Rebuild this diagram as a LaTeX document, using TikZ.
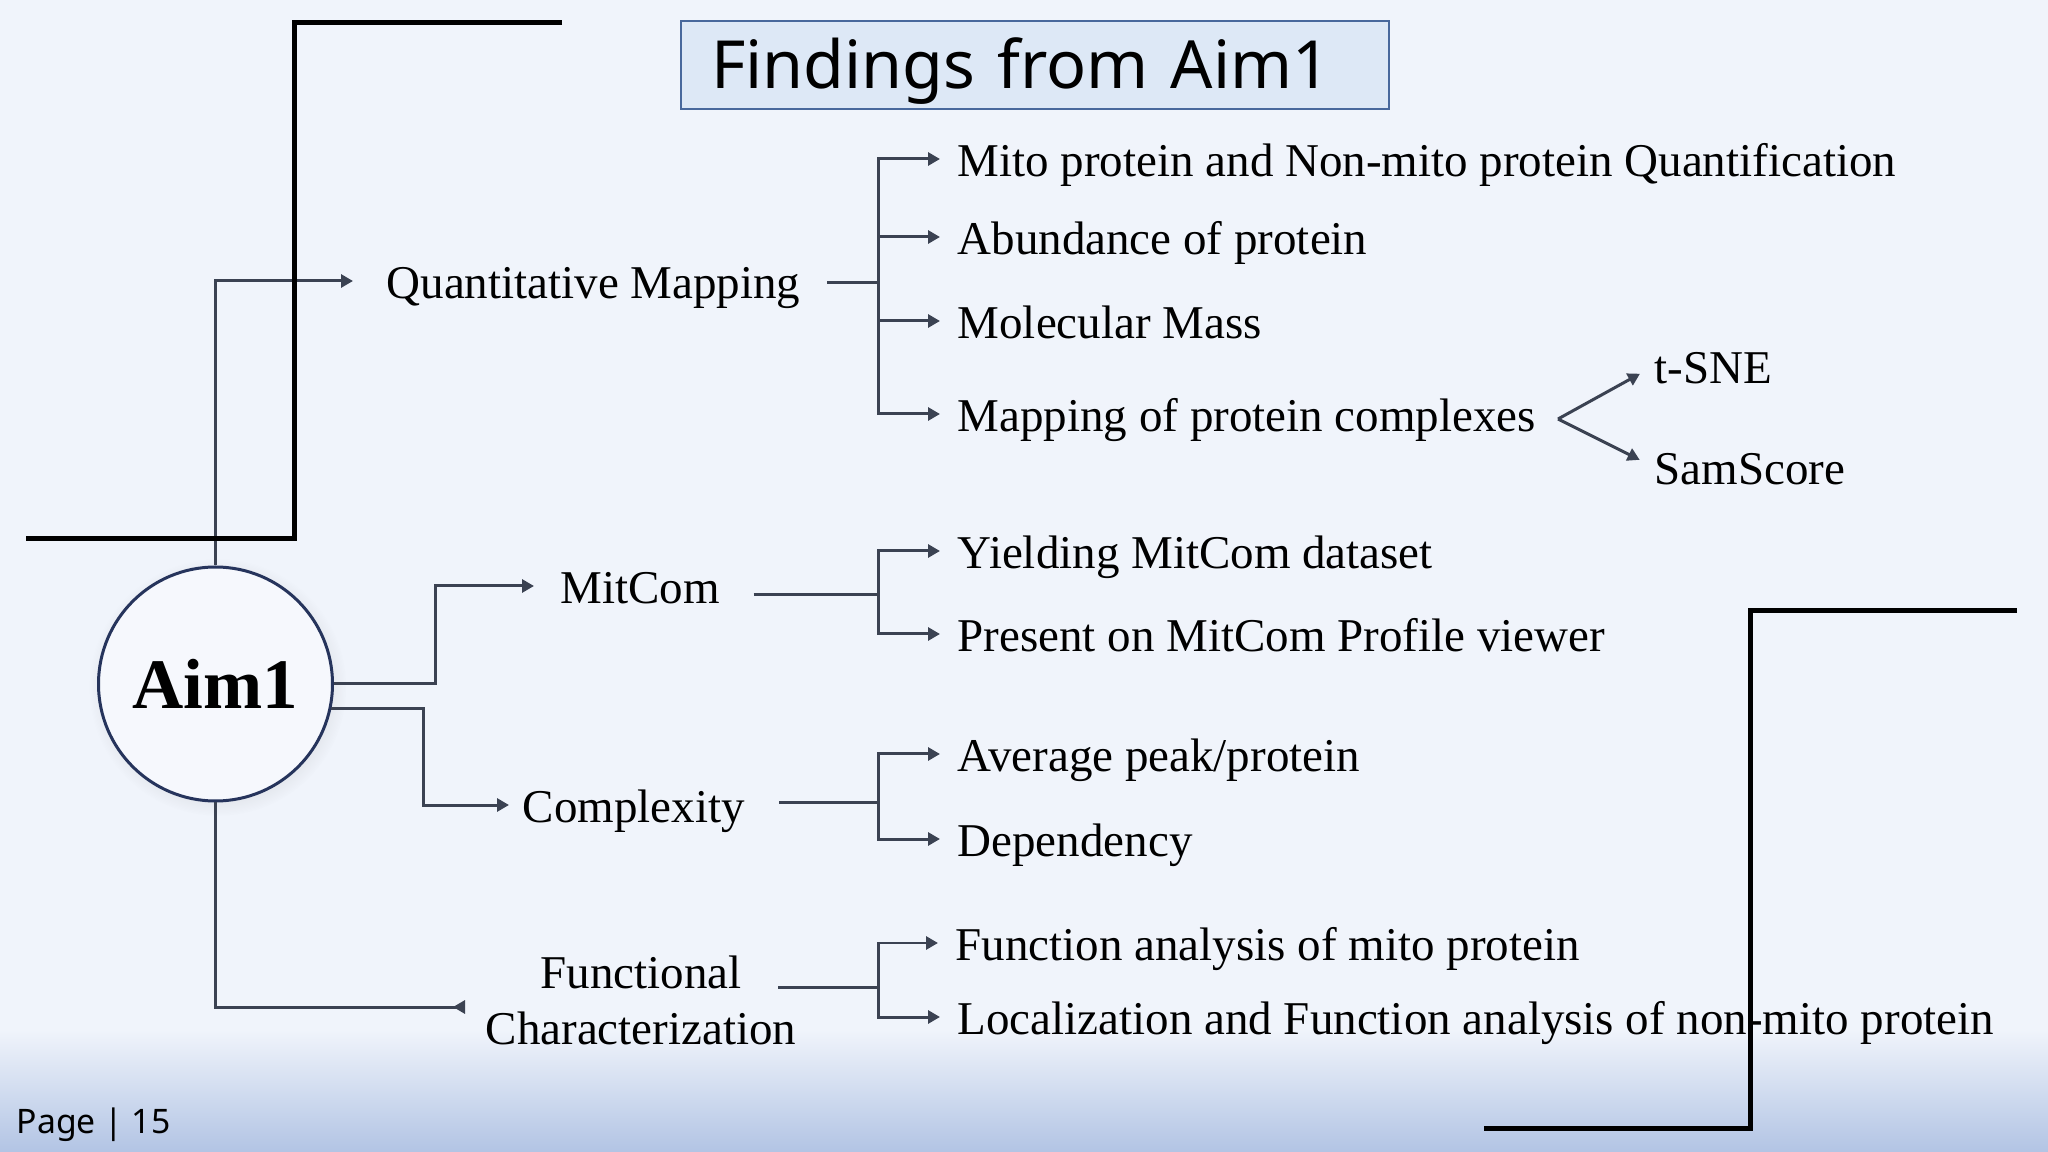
\documentclass[tikz,border=0pt]{standalone}
\usepackage{fontspec}
\setmainfont{Liberation Serif}
\newfontfamily\slidesans{Noto Sans}
\usepackage{tikz}
\usetikzlibrary{arrows.meta, positioning, shadows}
\definecolor{slidebg}{RGB}{240,244,251}
\definecolor{slidebot}{RGB}{178,196,228}
\definecolor{linkgray}{RGB}{59,66,82}
\definecolor{aimnavy}{RGB}{38,52,92}
\definecolor{titlefill}{RGB}{221,232,246}
\definecolor{titleedge}{RGB}{72,104,156}

\begin{document}
\begin{tikzpicture}[
        txt/.style={font=\fontsize{13.37}{15.9}\selectfont, anchor=west, inner sep=0pt,
                    text height=0.43cm, text depth=0.075cm},
        link/.style={draw=linkgray, line width=0.03cm},
        arrow/.style={link, -{Triangle[length=0.12cm, width=0.13cm]}},
        backarrow/.style={link, -{Triangle[length=0.12cm, width=0.13cm, reversed]}},
        frame/.style={line width=0.05cm, black},
    ]
        %--- Fondo ---
        \fill[slidebg] (0,0) rectangle (20.48,-11.52);
        \shade[top color=slidebg, bottom color=slidebot] (0,-10.3) rectangle (20.48,-11.52);
        \useasboundingbox (0,0) rectangle (20.48,-11.52);

        %--- Titulo ---
        \node[draw=titleedge, line width=0.02cm, fill=titlefill, anchor=north west,
              minimum height=0.88cm, text width=6.48cm, inner xsep=0.30cm, inner ysep=0pt,
              text height=0.62cm, text depth=0.14cm, align=left,
              font=\slidesans\fontsize{18.9}{22}\selectfont]
              (title) at (6.80,-0.20) {Findings from Aim1};

        %--- Centro ---
        \node[circle, draw=aimnavy, line width=0.03cm, fill=slidebg!60!white,
              minimum size=2.34cm, inner sep=0pt, font=\bfseries\fontsize{20.2}{24}\selectfont,
              circular drop shadow={shadow xshift=0.02cm, shadow yshift=-0.03cm, opacity=0.12}]
              (aim) at (2.155,-6.84) {Aim1};

        %--- Ramas ---
        \node[txt] (qm)     at (3.86,-2.81) {Quantitative Mapping};
        \node[txt] (mitcom) at (5.60,-5.86) {MitCom};
        \node[txt] (cplx)   at (5.22,-8.05) {Complexity};
        \node[font=\fontsize{13.37}{15.9}\selectfont, align=center, inner sep=0pt, anchor=west]
              (func) at (4.85,-10.0) {Functional\\Characterization};

        \draw[arrow, shorten >=0.33cm] (aim.north) |- (qm.west);
        \draw[arrow, shorten >=0.26cm] (aim.east) -- ++(1.01,0) |- (mitcom.west);
        \draw[arrow, shorten >=0.13cm] (aim.-12) -- ++(0.92,0) |- (cplx.west);
        \draw[backarrow, shorten >=0.20cm] (aim.south) |- ([yshift=-0.07cm]func.west);

        %--- Hojas ---
        \node[txt] (mito)     at (9.57,-1.59)  {Mito protein and Non-mito protein Quantification};
        \node[txt] (abund)    at (9.57,-2.37)  {Abundance of protein};
        \node[txt] (molmass)  at (9.57,-3.21)  {Molecular Mass};
        \node[txt] (mapc)     at (9.57,-4.14)  {Mapping of protein complexes};
        \node[txt] (tsne)     at (16.54,-3.66) {t-SNE};
        \node[txt] (samscore) at (16.54,-4.67) {SamScore};
        \node[txt] (yield)    at (9.57,-5.51)  {Yielding MitCom dataset};
        \node[txt] (present)  at (9.57,-6.34)  {Present on MitCom Profile viewer};
        \node[txt] (avgpeak)  at (9.57,-7.54)  {Average peak/protein};
        \node[txt] (depend)   at (9.57,-8.39)  {Dependency};
        \node[txt] (funcmito) at (9.55,-9.43)  {Function analysis of mito protein};
        \node[txt] (locfunc)  at (9.57,-10.17) {Localization and Function analysis of non-mito protein};

        \coordinate (qmfork)  at (8.78,-2.83);
        \coordinate (mcfork)  at (8.78,-5.95);
        \coordinate (cxfork)  at (8.78,-8.02);
        \coordinate (fnfork)  at (8.78,-9.87);
        \coordinate (mapfork) at (15.58,-4.19);

        \draw[link, shorten <=0.26cm] (qmfork -| qm.east) -- (qmfork);
        \draw[link, shorten <=0.33cm] (mcfork -| mitcom.east) -- (mcfork);
        \draw[link, shorten <=0.34cm] (cxfork -| cplx.east) -- (cxfork);
        \draw[link] (fnfork) -- ++(-1.00,0);

        \foreach \n in {mito, abund, molmass, mapc}
            \draw[arrow, shorten >=0.17cm] (qmfork) |- (\n.west);
        \foreach \n in {yield, present}
            \draw[arrow, shorten >=0.17cm] (mcfork) |- (\n.west);
        \foreach \n in {avgpeak, depend}
            \draw[arrow, shorten >=0.17cm] (cxfork) |- (\n.west);
        \foreach \n in {funcmito, locfunc}
            \draw[arrow, shorten >=0.17cm] (fnfork) |- (\n.west);

        \draw[arrow, shorten >=0.16cm] (mapfork) -- (tsne.west);
        \draw[arrow, shorten >=0.16cm] (mapfork) -- (samscore.west);

        %--- Marcos ---
        \draw[frame] (5.62,-0.23) -- (2.94,-0.23) -- (2.94,-5.39) -- (0.26,-5.39);
        \draw[frame] (20.17,-6.11) -- (17.50,-6.11) -- (17.50,-11.28) -- (14.84,-11.28);

        %--- Pie ---
        \node[anchor=base west, inner sep=0pt, font=\slidesans\fontsize{9.6}{11}\selectfont]
              (pagenum) at (0.16,-11.33) {Page | 15};
    \end{tikzpicture}
\end{document}
